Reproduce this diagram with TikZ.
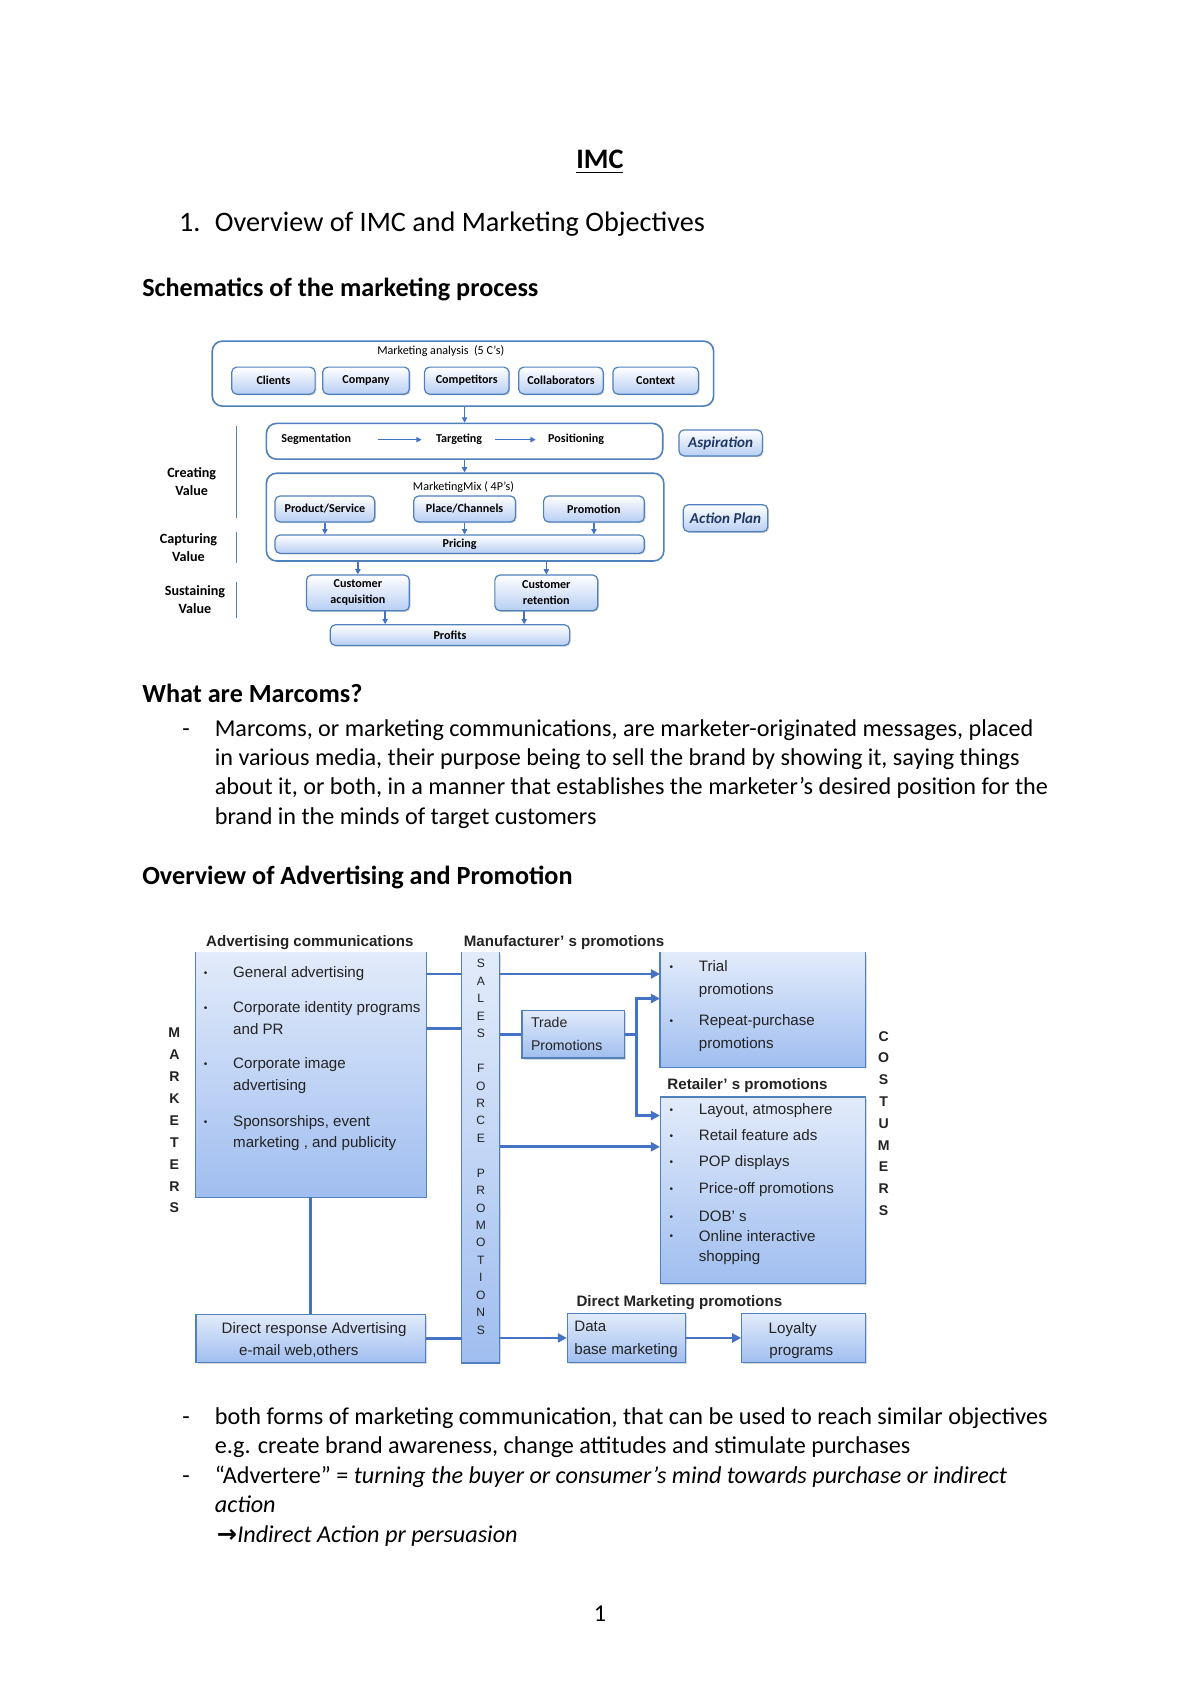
\documentclass[tikz,border=0pt]{standalone}
\usepackage{fontspec}
\setmainfont{Carlito}
\newfontfamily\arialfont{Liberation Sans}
\newfontfamily\symfont{DejaVu Sans}
\usetikzlibrary{arrows.meta,shadows}
\definecolor{rimblue}{RGB}{79,129,189}
\definecolor{arrowblue}{RGB}{68,114,196}
\definecolor{boxtop}{RGB}{226,235,250}
\definecolor{boxbot}{RGB}{160,190,240}
\definecolor{ink}{RGB}{35,35,35}
\definecolor{navy}{RGB}{31,56,100}
\newcommand\tinyb{\fontsize{6}{7}\selectfont\bfseries}
\newcommand\tinyr{\fontsize{6}{7}\selectfont}
\newcommand\arsz{\arialfont\fontsize{7.5}{9}\selectfont}

\begin{document}
\begin{tikzpicture}[x=0.5373pt,y=-0.5373pt,
	sz/.style 2 args={minimum width=#1*0.5373pt,minimum height=#2*0.5373pt},
	txt/.style={anchor=base west,inner sep=0,font=\fontsize{12}{14}\selectfont},
	head/.style={txt,font=\fontsize{13}{15}\selectfont\bfseries},
	cont/.style={draw=rimblue,line width=0.8pt,rounded corners=5pt,fill=white,inner sep=0},
	cbox/.style={draw=rimblue,line width=0.6pt,rounded corners=2.5pt,top color=white,bottom color=boxbot!75!white,
		drop shadow={shadow xshift=0.6pt,shadow yshift=-0.6pt,opacity=0.35},inner sep=0,font=\tinyb},
	tlab/.style={inner sep=0,font=\tinyr},
	side/.style={inner sep=0,align=center,font=\fontsize{7}{8}\selectfont\bfseries},
	sideline/.style={rimblue,line width=0.5pt},
	arr/.style={arrowblue,line width=0.7pt,-{Triangle[length=2.6pt,width=2.6pt]}},
	pbox/.style={top color=boxtop,bottom color=boxbot,draw=rimblue,line width=0.6pt,inner sep=0,
		drop shadow={shadow xshift=0.8pt,shadow yshift=-0.8pt,opacity=0.3}},
	edge/.style={rimblue,line width=0.6pt},
	link/.style={arrowblue,line width=1.3pt},
	flow/.style={link,-{Triangle[length=4.5pt,width=4.5pt]}},
	itm/.style={anchor=base west,inner sep=0,font=\arsz,text=ink},
	ctr/.style={anchor=base,inner sep=0,font=\arsz,text=ink},
	bul/.style={anchor=base,inner sep=0,font=\arialfont\fontsize{5}{6}\selectfont,text=ink},
	ttl/.style={anchor=base west,inner sep=0,font=\arsz\bfseries,text=ink},
	vlet/.style={inner sep=0,font=\arialfont\fontsize{7}{8}\selectfont\bfseries,text=ink},
	slet/.style={inner sep=0,font=\arialfont\fontsize{6}{7}\selectfont,text=ink}]
	\path[use as bounding box,fill=white] (0,0) rectangle (1108,1568);

	% page text
	\node[anchor=base,inner sep=0,font=\fontsize{14}{17}\selectfont\bfseries] (imc) at (554,156) {\underline{IMC}};
	\node[txt,font=\fontsize{14}{17}\selectfont] (ovnum) at (165,214) {1.};
	\node[txt,font=\fontsize{14}{17}\selectfont] (ovtitle) at (198,214) {Overview of IMC and Marketing Objectives};
	\node[head] (hschem) at (131,274) {Schematics of the marketing process};

	% marketing process
	\node[cont,sz={463}{60}] (ma) at (427.5,345) {};
	\node[tlab] (matitle) at (407,324) {Marketing analysis~~(5 C’s)};
	\node[cbox,sz={77}{25}] (clients) at (252.5,351.5) {Clients};
	\node[cbox,sz={80}{25}] (company) at (338,351.5) {Company};
	\node[cbox,sz={78}{25}] (compet) at (431,351.5) {Competitors};
	\node[cbox,sz={78}{25}] (collab) at (518,351.5) {Collaborators};
	\node[cbox,sz={79}{25}] (context) at (605.5,351.5) {Context};

	\node[cont,sz={366}{33}] (stp) at (429,407.5) {};
	\node[tlab,font=\tinyb] (seg) at (292,406) {Segmentation};
	\node[tlab,font=\tinyb] (tgt) at (424,406) {Targeting};
	\node[tlab,font=\tinyb] (pos) at (532,406) {Positioning};
	\draw[arr,shorten <=13pt,shorten >=7pt] (seg) -- (tgt);
	\draw[arr,shorten <=6pt,shorten >=6pt] (tgt) -- (pos);
	\node[cbox,sz={77}{24},font=\fontsize{7.5}{8}\selectfont\bfseries\itshape,text=navy] (aspir) at (665.5,409) {Aspiration};

	\node[cont,sz={367}{81}] (mm) at (429.5,477.5) {};
	\node[tlab] (mmtitle) at (428,450) {MarketingMix ( 4P’s)};
	\node[cbox,sz={92}{24}] (prod) at (300,470) {Product/Service};
	\node[cbox,sz={94}{24}] (place) at (429,470) {Place/Channels};
	\node[cbox,sz={93}{24}] (promo) at (548.5,470) {Promotion};
	\node[cbox,sz={341}{17}] (pricing) at (424.5,502.5) {Pricing};
	\node[cbox,sz={78}{25},font=\fontsize{7.5}{8}\selectfont\bfseries\itshape,text=navy] (aplan) at (670,478.5) {Action Plan};

	\node[cbox,sz={95}{33},align=center] (acq) at (330.5,547.5) {Customer\\[1pt]acquisition};
	\node[cbox,sz={95}{33},align=center] (ret) at (504.5,547.5) {Customer\\[1pt]retention};
	\node[cbox,sz={221}{19}] (profits) at (415.5,586.5) {Profits};

	\draw[arr] (ma.south -| stp) -- (stp.north);
	\draw[arr] (stp.south) -- (stp.south |- mm.north);
	\draw[arr] (prod.south) -- (prod.south |- pricing.north);
	\draw[arr] (place.south) -- (place.south |- pricing.north);
	\draw[arr] (promo.south) -- (promo.south |- pricing.north);
	\draw[arr] (acq.north |- mm.south) -- (acq.north);
	\draw[arr] (ret.north |- mm.south) -- (ret.north);
	\draw[arr] ([xshift=13.5pt]acq.south) -- ([xshift=13.5pt]acq.south |- profits.north);
	\draw[arr] ([xshift=-11pt]ret.south) -- ([xshift=-11pt]ret.south |- profits.north);

	\node[side] (creating) at (177,444.5) {Creating\\[1pt]Value};
	\node[side] (capturing) at (174,505.5) {Capturing\\[1pt]Value};
	\node[side] (sustaining) at (180,553.5) {Sustaining\\[1pt]Value};
	\draw[sideline] (218,393) -- (218,478);
	\draw[sideline] (218,491) -- (218,520);
	\draw[sideline] (218,537) -- (218,571);

	% marcoms
	\node[head] (hmarc) at (131,649) {What are Marcoms?};
	\node[txt] (d1) at (168,680) {-};
	\node[txt] (m1) at (198,680) {Marcoms, or marketing communications, are marketer-originated messages, placed};
	\node[txt] (m2) at (198,707) {in various media, their purpose being to sell the brand by showing it, saying things};
	\node[txt] (m3) at (198,734) {about it, or both, in a manner that establishes the marketer’s desired position for the};
	\node[txt] (m4) at (198,761) {brand in the minds of target customers};
	\node[head] (hover) at (131,817) {Overview of Advertising and Promotion};

	% advertising and promotion
	\node[pbox,draw=none,sz={212}{225}] (adv) at (287,992.5) {};
	\draw[edge] (adv.north west) -- (adv.south west) -- (adv.south east) -- (adv.north east);
	\node[pbox,draw=none,sz={34}{378}] (bar) at (444,1069) {};
	\draw[edge] (bar.north west) -- (bar.south west) -- (bar.south east) -- (bar.north east);
	\node[pbox,draw=none,sz={189}{105}] (manuf) at (704.5,932.5) {};
	\draw[edge] (manuf.north west) -- (manuf.south west) -- (manuf.south east) -- (manuf.north east);
	\node[pbox,sz={189}{172}] (retail) at (704.5,1099) {};
	\node[pbox,sz={95}{44}] (trade) at (529.5,955) {};
	\node[pbox,sz={212}{44}] (direct) at (287,1236) {};
	\node[pbox,sz={109}{45}] (data) at (578.5,1235.5) {};
	\node[pbox,sz={114}{45}] (loyal) at (742,1235.5) {};

	\node[ttl] (tadv) at (190,874) {Advertising communications};
	\node[ttl] (tman) at (428,874) {Manufacturer’ s promotions};
	\node[ttl] (tret) at (616,1006) {Retailer’ s promotions};
	\node[ttl] (tdir) at (532,1206) {Direct Marketing promotions};

	\node[bul] (b1) at (190,902) {•};
	\node[itm] (gen) at (215,903) {General advertising};
	\node[bul] (b2) at (190,934) {•};
	\node[itm] (cid) at (215,935) {Corporate identity programs};
	\node[itm] (cpr) at (215,955) {and PR};
	\node[bul] (b3) at (190,986) {•};
	\node[itm] (cim) at (215,987) {Corporate image};
	\node[itm] (cad) at (215,1007) {advertising};
	\node[bul] (b4) at (190,1039) {•};
	\node[itm] (spo) at (215,1040) {Sponsorships, event};
	\node[itm] (smk) at (215,1060) {marketing , and publicity};

	\node[bul] (b5) at (620,896) {•};
	\node[itm] (tri) at (645,897) {Trial};
	\node[itm] (tpr) at (645,918) {promotions};
	\node[bul] (b6) at (620,946) {•};
	\node[itm] (rep) at (645,947) {Repeat-purchase};
	\node[itm] (rpr) at (645,968) {promotions};

	\node[bul] (b7) at (620,1028) {•};
	\node[itm] (lay) at (645,1029) {Layout, atmosphere};
	\node[bul] (b8) at (620,1052) {•};
	\node[itm] (rfa) at (645,1053) {Retail feature ads};
	\node[bul] (b9) at (620,1076) {•};
	\node[itm] (pop) at (645,1077) {POP displays};
	\node[bul] (b10) at (620,1101) {•};
	\node[itm] (poff) at (645,1102) {Price-off promotions};
	\node[bul] (b11) at (620,1127) {•};
	\node[itm] (dob) at (645,1128) {DOB’ s};
	\node[bul] (b12) at (620,1145) {•};
	\node[itm] (onl) at (645,1146) {Online interactive};
	\node[itm] (shp) at (645,1165) {shopping};

	\node[itm,font=\arialfont\fontsize{7}{8}\selectfont] (tr1) at (490,949) {Trade};
	\node[itm,font=\arialfont\fontsize{7}{8}\selectfont] (tr2) at (490,970) {Promotions};
	\node[ctr] (dr1) at (290,1231) {Direct response Advertising};
	\node[ctr] (dr2) at (276,1252) {e-mail web,others};
	\node[itm] (da1) at (530,1230) {Data};
	\node[itm] (da2) at (530,1251) {base marketing};
	\node[ctr] (lo1) at (732,1231) {Loyalty};
	\node[ctr] (lo2) at (740,1252) {programs};

	\foreach \ch [count=\i from 0] in {M,A,R,K,E,T,E,R,S}
		\node[vlet] (mk\i) at (161,{954+20.2*\i}) {\ch};
	\foreach \ch [count=\i from 0] in {C,O,S,T,U,M,E,R,S}
		\node[vlet] (cu\i) at (816,{957+20.1*\i}) {\ch};
	\foreach \ch [count=\i from 0] in {S,A,L,E,S,{},F,O,R,C,E,{},P,R,O,M,O,T,I,O,N,S}
		\node[slet] (sf\i) at (444,{890+16.1*\i}) {\ch};

	\coordinate (fork) at (588,955);
	\draw[link] (adv.east |- gen) -- (bar.west |- gen);
	\draw[link] (adv.east |- cpr) -- (bar.west |- cpr);
	\draw[flow] (bar.east |- gen) -- (manuf.west |- gen);
	\draw[link] (bar.east |- trade) -- (trade.west);
	\draw[link] (trade.east) -- (fork);
	\draw[flow] (fork) |- ([yshift=5.6pt]manuf.west);
	\draw[flow] (fork) |- ([yshift=37pt]retail.west);
	\draw[flow] ([yshift=21.5pt]retail.west -| bar.east) -- ([yshift=21.5pt]retail.west);
	\draw[link] (adv.south) -- (direct.north);
	\draw[link] (direct.east) -- (direct.east -| bar.west);
	\draw[flow] (data.west -| bar.east) -- (data.west);
	\draw[flow] (data.east) -- (loyal.west);

	% closing list
	\node[txt] (d2) at (168,1315) {-};
	\node[txt] (n1) at (198,1315) {both forms of marketing communication, that can be used to reach similar objectives};
	\node[txt] (n2) at (198,1342) {e.g. create brand awareness, change attitudes and stimulate purchases};
	\node[txt] (d3) at (168,1370) {-};
	\node[txt] (n3) at (198,1370) {“Advertere” = \textit{turning the buyer or consumer’s mind towards purchase or indirect}};
	\node[txt] (n4) at (198,1397) {\textit{action}};
	\node[txt] (n5) at (200,1424) {{\symfont\bfseries\fontsize{12}{14}\selectfont →}\textit{Indirect Action pr persuasion}};
	\node[anchor=base,inner sep=0,font=\fontsize{12}{14}\selectfont] (pageno) at (554,1497) {1};
\end{tikzpicture}
\end{document}
